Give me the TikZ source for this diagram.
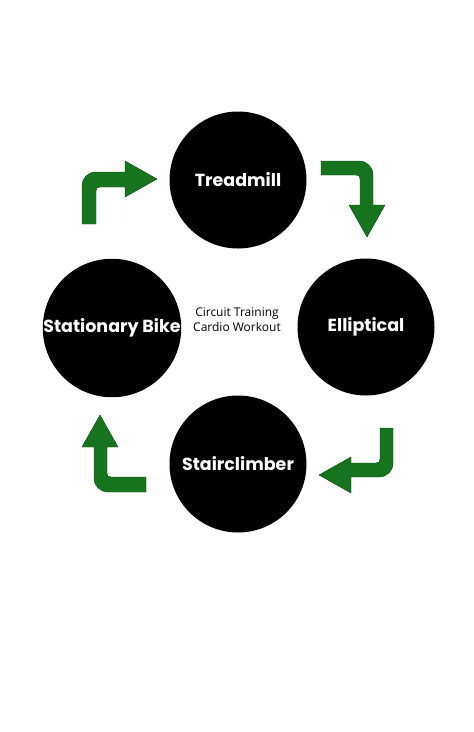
\documentclass[tikz,border=0pt]{standalone}
\usepackage{fontspec}
\setmainfont{Open Sans}
\newfontfamily\headfont{Poppins}[BoldFont=* Bold]
\definecolor{arrowgreen}{RGB}{22,116,30}
\definecolor{arrowedge}{RGB}{10,70,15}
\begin{document}
\begin{tikzpicture}[x=1pt,y=-1pt,
  station/.style={circle,fill=black,minimum size=137pt,inner sep=0pt,text=white,font=\headfont\bfseries\fontsize{17.5}{17.5}\selectfont},
  bentarrow/.style={fill=arrowgreen,draw=arrowedge,line width=0.4pt,line join=miter}]
\useasboundingbox (0,0) rectangle (474,732);
\fill[white] (0,0) rectangle (474,732);
\node[station] (tread) at (238,180) {\raisebox{2pt}{Treadmill}};
\node[station] (ell) at (366,327) {\raisebox{2pt}{Elliptical}};
\node[station] (bike) at (112,328) {\raisebox{1pt}{Stationary Bike}};
\node[station] (stair) at (238,464) {\raisebox{1pt}{Stairclimber}};
\node[align=center,font=\fontsize{12}{15}\selectfont] (title) at (237,320) {Circuit Training\\Cardio Workout};
% top-left arrow
\draw[bentarrow] (82,224) -- (82,186) .. controls (82,178) and (88,172) .. (96,172) -- (125,172) -- (125,161) -- (157,179) -- (125,197) -- (125,187) -- (100,187) .. controls (97,187) and (96,188) .. (96,191) -- (96,224) -- cycle;
% top-right arrow
\draw[bentarrow] (321,161) -- (359,161) .. controls (367,161) and (373,167) .. (373,175) -- (373,205) -- (385,205) -- (367,237) -- (349,205) -- (360,205) -- (360,179) .. controls (360,176) and (359,175) .. (356,175) -- (321,175) -- cycle;
% bottom-right arrow
\draw[bentarrow] (380,428) -- (393,428) -- (393,463) .. controls (393,471) and (387,477) .. (379,477) -- (351,477) -- (351,493) -- (319,475) -- (351,457) -- (351,463) -- (376,463) .. controls (379,463) and (380,462) .. (380,459) -- cycle;
% bottom-left arrow
\draw[bentarrow] (100,415) -- (118,447) -- (107,447) -- (107,473) .. controls (107,476) and (108,477) .. (111,477) -- (146,477) -- (146,492) -- (108,492) .. controls (100,492) and (94,486) .. (94,478) -- (94,447) -- (82,447) -- cycle;
\end{tikzpicture}
\end{document}
